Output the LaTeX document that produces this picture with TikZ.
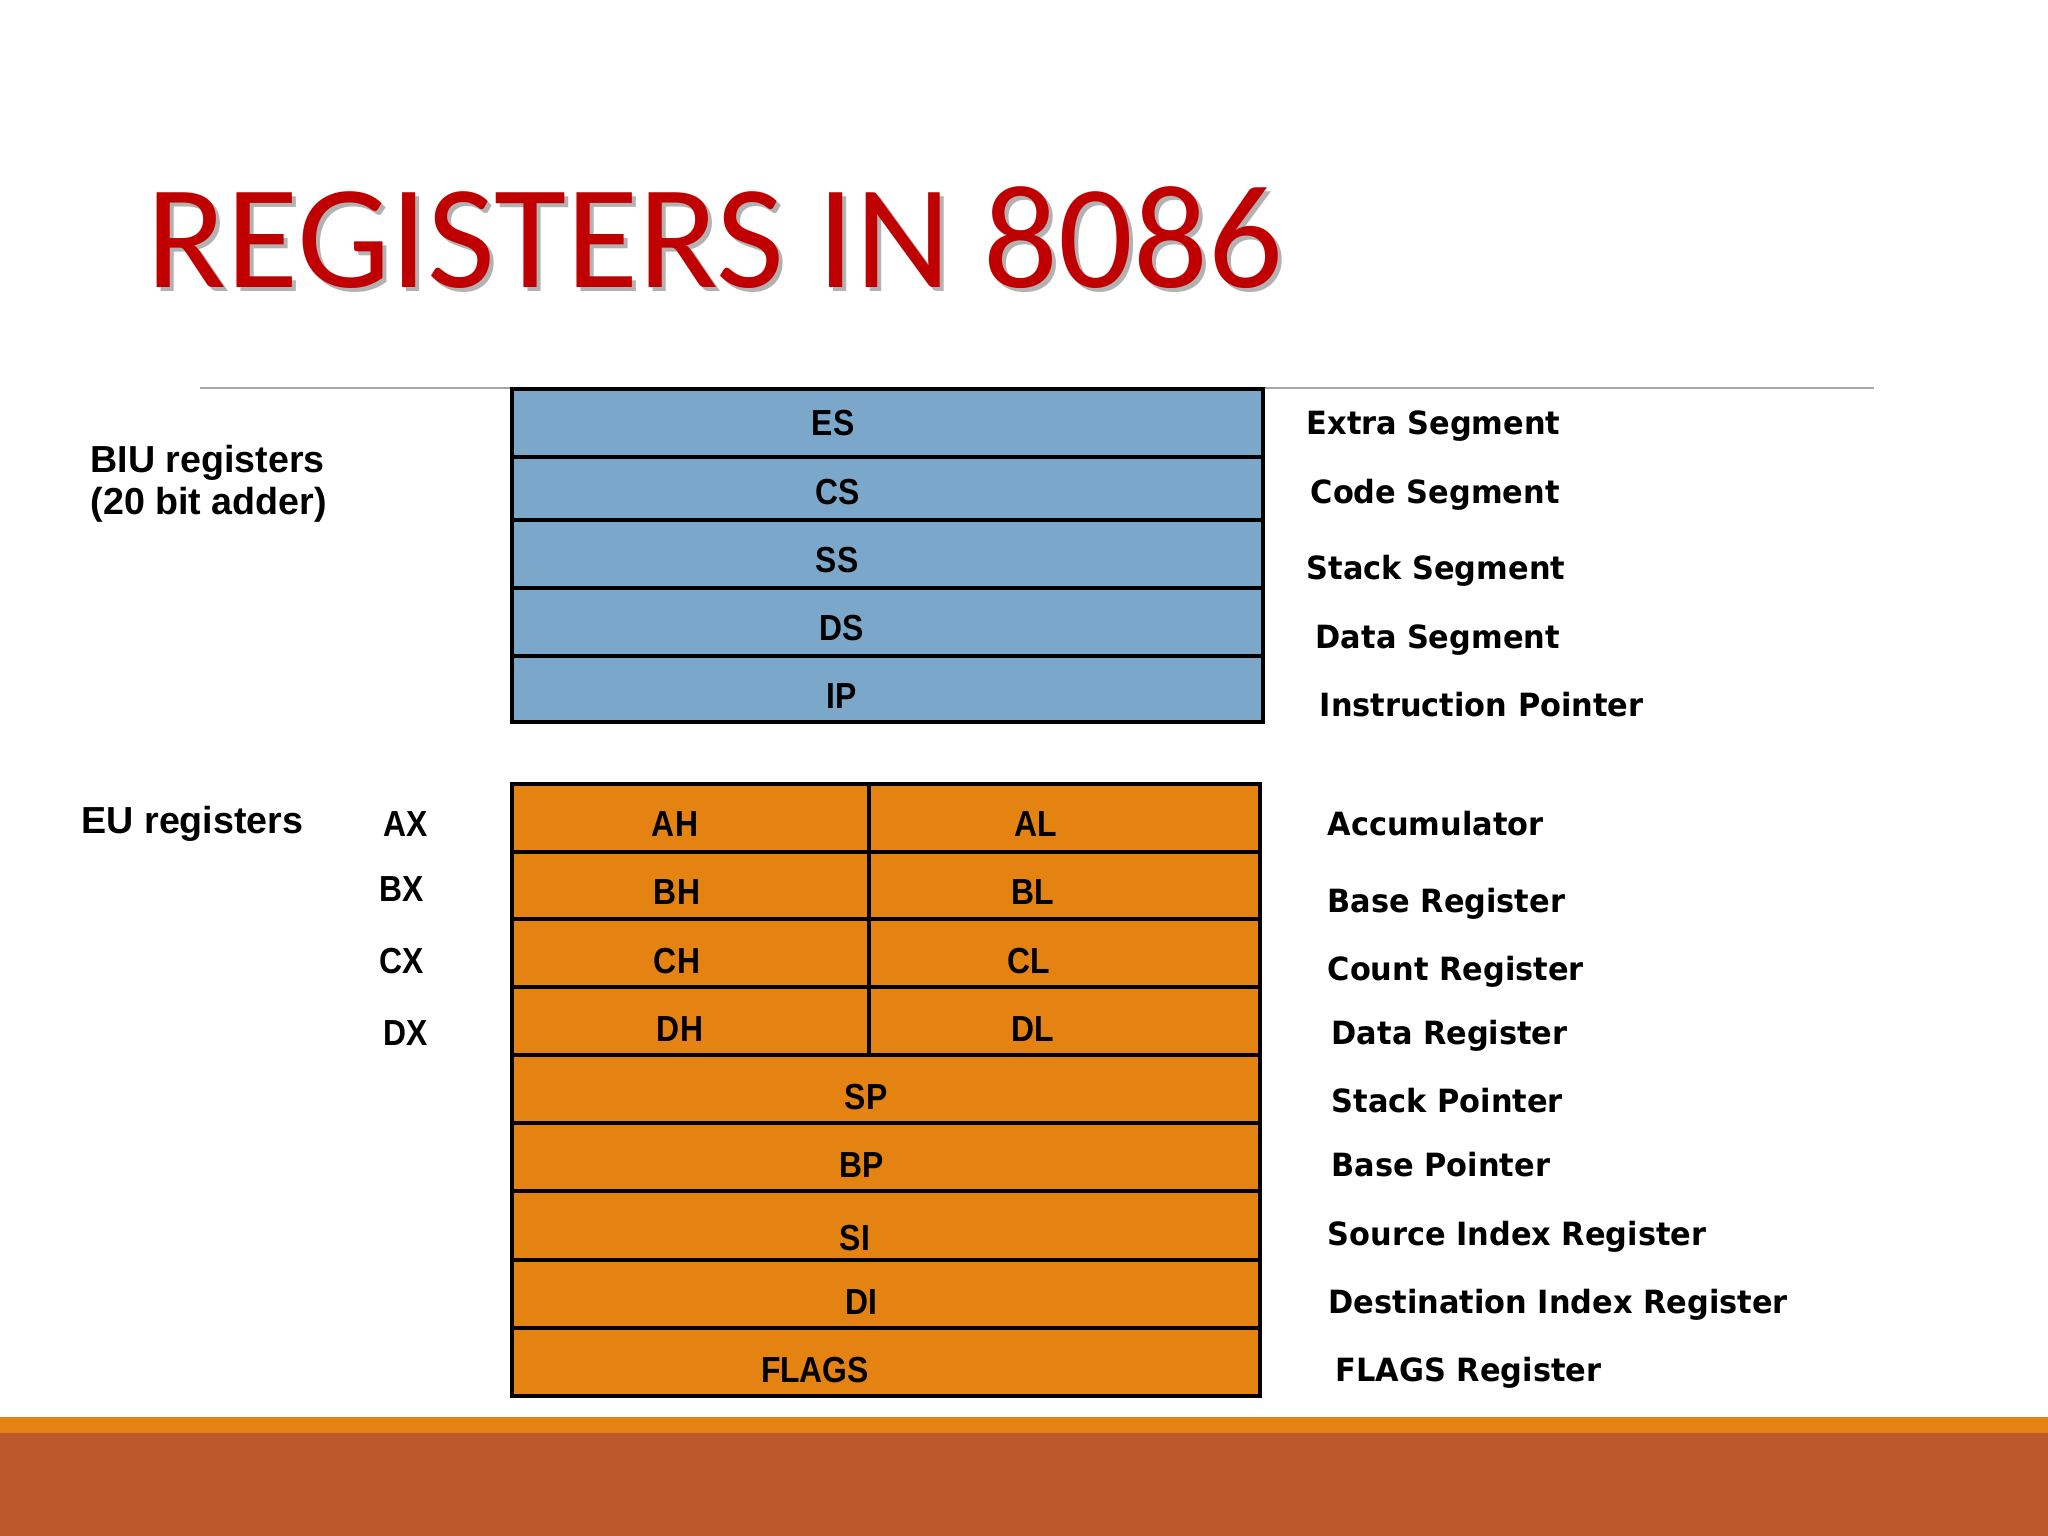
\documentclass[tikz,border=0pt]{standalone}
\usepackage{fontspec}
\setmainfont{Liberation Sans}
\newfontfamily\titlefont{Carlito}
\newfontfamily\regfont[FakeStretch=0.88]{Liberation Sans}
\newfontfamily\namefont[FakeStretch=0.95]{DejaVu Sans}
\usepackage{tikz}

\definecolor{titlered}{HTML}{C00000}
\definecolor{biublue}{HTML}{7BA7CB}
\definecolor{euorange}{HTML}{E48312}
\definecolor{rust}{HTML}{BD582C}
\definecolor{rulegray}{HTML}{A6A6A6}

\tikzset{
	biubox/.style = {draw = black, line width = 1.3pt, fill = biublue},
	eubox/.style = {draw = black, line width = 1.3pt, fill = euorange},
	reg/.style = {anchor = base, inner sep = 0pt, font = \regfont\bfseries\fontsize{10.3}{12}\selectfont},
	side/.style = {anchor = base west, inner sep = 0pt, font = \bfseries\fontsize{10.7}{12.6}\selectfont},
	desc/.style = {anchor = base west, inner sep = 0pt, font = \namefont\bfseries\fontsize{9.1}{11}\selectfont},
}

\begin{document}
\begin{tikzpicture}[x = 0.01cm, y = -0.01cm]
			\useasboundingbox (0,0) rectangle (2048,1536);
			\fill [white] (0,0) rectangle (2048,1536);

			\begin{scope}
				\node [anchor = base west, inner sep = 0pt, text = black, opacity = 0.3, font = \titlefont\fontsize{42}{42}\selectfont] (shadow) at (150,291) {REGISTERS IN 8086};
				\node [anchor = base west, inner sep = 0pt, text = titlered, font = \titlefont\fontsize{42}{42}\selectfont] (title) at (146,287) {REGISTERS IN 8086};
				\draw [rulegray, line width = 0.6pt] (200,388) -- (1874,388);
			\end{scope}

			\begin{scope}
				\foreach \name/\top/\bot/\tx/\ty in {ES/389/457/833/435, CS/457/520/838/504, SS/520/588/837/572, DS/588/656/842/640, IP/656/722/842/708}
				{
					\draw [biubox] (512,\top) rectangle (1263,\bot);
					\node [reg] (\name) at (\tx,\ty) {\name};
				}
			\end{scope}

			\begin{scope}
				\foreach \hi/\lo/\top/\bot/\hx/\lx/\ty in {AH/AL/784/852/675/1036/836, BH/BL/852/919/677/1033/904, CH/CL/919/987/677/1029/973, DH/DL/987/1055/680/1033/1041}
				{
					\draw [eubox] (512,\top) rectangle (869,\bot);
					\draw [eubox] (869,\top) rectangle (1260,\bot);
					\node [reg] (\hi) at (\hx,\ty) {\hi};
					\node [reg] (\lo) at (\lx,\ty) {\lo};
				}
				\foreach \name/\top/\bot/\tx/\ty in {SP/1055/1123/866/1109, BP/1123/1191/862/1177, SI/1191/1260/855/1250, DI/1260/1328/861/1314, FLAGS/1328/1396/815/1382}
				{
					\draw [eubox] (512,\top) rectangle (1260,\bot);
					\node [reg] (\name) at (\tx,\ty) {\name};
				}
			\end{scope}

			\begin{scope}
				\node [side] (biu) at (90,472) {BIU registers};
				\node [side] (adder) at (90,514) {(20 bit adder)};
				\node [side] (eu) at (81,833) {EU registers};
				\node [reg] (ax) at (406,836) {AX};
				\node [reg] (bx) at (402,901) {BX};
				\node [reg] (cx) at (402,973) {CX};
				\node [reg] (dx) at (406,1045) {DX};
			\end{scope}

			\begin{scope}
				\node [desc] (extra) at (1306,434) {Extra Segment};
				\node [desc] (code) at (1310,503) {Code Segment};
				\node [desc] (stack) at (1306,579) {Stack Segment};
				\node [desc] (data) at (1315,648) {Data Segment};
				\node [desc] (instr) at (1319,716) {Instruction Pointer};
				\node [desc] (acc) at (1327,835) {Accumulator};
				\node [desc] (base) at (1327,912) {Base Register};
				\node [desc] (count) at (1327,980) {Count Register};
				\node [desc] (datareg) at (1331,1044) {Data Register};
				\node [desc] (stackptr) at (1331,1112) {Stack Pointer};
				\node [desc] (baseptr) at (1331,1176) {Base Pointer};
				\node [desc] (source) at (1327,1245) {Source Index Register};
				\node [desc] (dest) at (1328,1313) {Destination Index Register};
				\node [desc] (flags) at (1335,1381) {FLAGS Register};
			\end{scope}

			\begin{scope}
				\fill [euorange] (0,1417) rectangle (2048,1433);
				\fill [rust] (0,1433) rectangle (2048,1536);
			\end{scope}
		\end{tikzpicture}
\end{document}
